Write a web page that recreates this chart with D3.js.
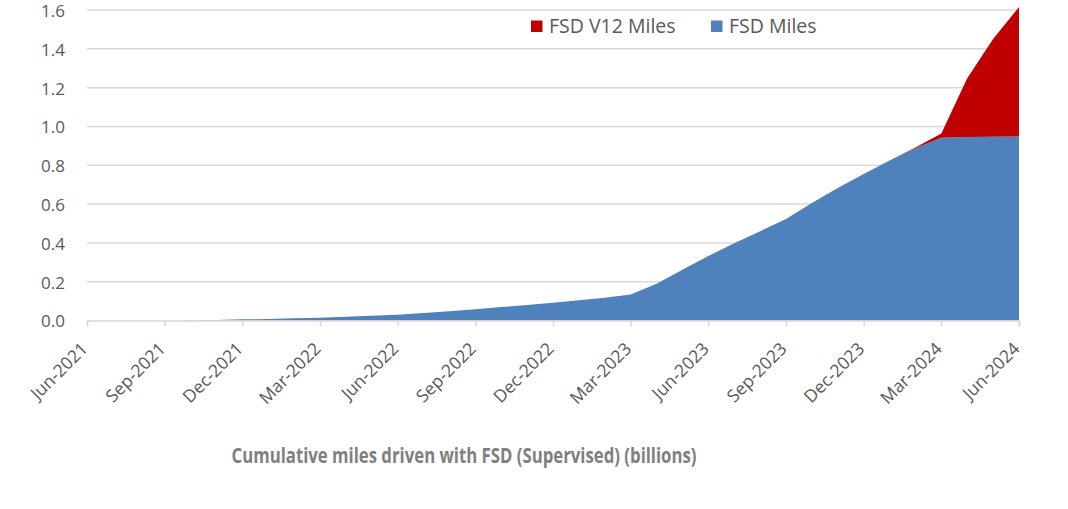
<!DOCTYPE html>
<html>
<head>
<meta charset="utf-8">
<script src="https://cdn.jsdelivr.net/npm/d3@7"></script>
<style>
  html, body { margin: 0; padding: 0; background: #fff; }
  svg { display: block; font-family: "Open Sans", "Noto Sans", sans-serif; }
</style>
</head>
<body>
<svg id="chart" width="1068" height="509"></svg>
<script>
// ---- data ----
const months = [
  "Jun-2021","Jul-2021","Aug-2021","Sep-2021","Oct-2021","Nov-2021","Dec-2021",
  "Jan-2022","Feb-2022","Mar-2022","Apr-2022","May-2022","Jun-2022","Jul-2022","Aug-2022","Sep-2022","Oct-2022","Nov-2022","Dec-2022",
  "Jan-2023","Feb-2023","Mar-2023","Apr-2023","May-2023","Jun-2023","Jul-2023","Aug-2023","Sep-2023","Oct-2023","Nov-2023","Dec-2023",
  "Jan-2024","Feb-2024","Mar-2024","Apr-2024","May-2024","Jun-2024"
];
const fsdMiles = [
  0, 0, 0, 0, 0.001, 0.003, 0.006,
  0.008, 0.011, 0.014, 0.019, 0.024, 0.030, 0.039, 0.048, 0.058, 0.069, 0.080, 0.092,
  0.104, 0.117, 0.134, 0.190, 0.262, 0.333, 0.398, 0.460, 0.523, 0.605, 0.683, 0.755,
  0.825, 0.888, 0.942, 0.945, 0.947, 0.948
];
const fsdV12Miles = [
  0, 0, 0, 0, 0, 0, 0,
  0, 0, 0, 0, 0, 0, 0, 0, 0, 0, 0, 0,
  0, 0, 0, 0, 0, 0, 0, 0, 0, 0, 0, 0,
  0, 0.004, 0.022, 0.303, 0.503, 0.667
];
const xTickLabels = ["Jun-2021","Sep-2021","Dec-2021","Mar-2022","Jun-2022","Sep-2022","Dec-2022",
  "Mar-2023","Jun-2023","Sep-2023","Dec-2023","Mar-2024","Jun-2024"];
const yTicks = [0, 0.2, 0.4, 0.6, 0.8, 1.0, 1.2, 1.4, 1.6];
const seriesNames = ["FSD Miles", "FSD V12 Miles"];
const seriesColors = ["#4f81bd", "#c00000"];
const legendOrder = ["FSD V12 Miles", "FSD Miles"];
const titleText = "Cumulative miles driven with FSD (Supervised) (billions)";

// ---- layout ----
const svg = d3.select("#chart");
const plotLeft = 87, plotRight = 1019, plotTop = 10, plotBottom = 320.5;
const textColor = "#595959";
const gridColor = "#d9d9d9";

const x = d3.scalePoint().domain(months).range([plotLeft, plotRight]);
const y = d3.scaleLinear().domain([0, 1.6]).range([plotBottom, plotTop]);

const table = months.map((m, i) => ({ month: m, "FSD Miles": fsdMiles[i], "FSD V12 Miles": fsdV12Miles[i] }));
const stacked = d3.stack().keys(seriesNames)(table);

// gridlines
svg.append("g").selectAll("line").data(yTicks.filter(d => d > 0)).join("line")
  .attr("x1", plotLeft).attr("x2", plotRight)
  .attr("y1", d => y(d)).attr("y2", d => y(d))
  .attr("stroke", gridColor).attr("stroke-width", 1.5);

// areas
const area = d3.area()
  .x(d => x(d.data.month))
  .y0(d => y(d[0]))
  .y1(d => y(d[1]));
svg.append("g").selectAll("path").data(stacked).join("path")
  .attr("d", area)
  .attr("fill", (d, i) => seriesColors[i]);

// y axis labels
const yAxis = d3.axisLeft(y).tickValues(yTicks).tickFormat(d3.format(".1f")).tickSize(0).tickPadding(0);
const gy = svg.append("g").attr("transform", `translate(65,0)`).call(yAxis);
gy.select(".domain").remove();
gy.selectAll("text").attr("fill", textColor).attr("font-size", 17)
  .attr("font-family", '"Open Sans", sans-serif').attr("dy", "0.38em");

// x axis
const xAxis = d3.axisBottom(x).tickValues(xTickLabels).tickSize(6).tickFormat(d => d);
const gx = svg.append("g").attr("transform", `translate(0,${plotBottom})`).call(xAxis);
gx.select(".domain").attr("stroke", gridColor).attr("stroke-width", 1.5);
gx.selectAll(".tick line").attr("stroke", gridColor).attr("stroke-width", 1.5);
gx.selectAll("text")
  .attr("fill", textColor).attr("font-size", 17.5)
  .attr("font-family", '"Open Sans", sans-serif')
  .attr("text-anchor", "end")
  .attr("dy", "0.35em")
  .attr("transform", "translate(-3,25) rotate(-45)")
  .attr("y", 0).attr("x", 0);

// legend
const lg = svg.append("g");
const legendX = [531, 711];
legendOrder.forEach((name, i) => {
  const c = seriesColors[seriesNames.indexOf(name)];
  lg.append("rect").attr("x", legendX[i]).attr("y", 20.5).attr("width", 11.5).attr("height", 11.5).attr("fill", c);
  lg.append("text").attr("x", legendX[i] + 18).attr("y", 26.5).attr("dy", "0.35em")
    .attr("font-size", 19.5).attr("fill", textColor).text(name);
});

// title
svg.append("text").attr("x", 464).attr("y", 463).attr("text-anchor", "middle")
  .attr("font-weight", "bold").attr("fill", "#7f7f7f").attr("font-size", 20.5)
  .attr("textLength", 465).attr("lengthAdjust", "spacingAndGlyphs").text(titleText);
</script>
</body>
</html>
